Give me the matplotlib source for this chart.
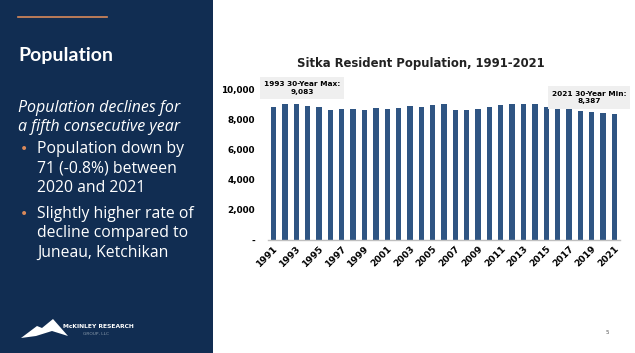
import matplotlib.pyplot as plt
from matplotlib.patches import Rectangle, Polygon
from matplotlib.lines import Line2D

# Sitka resident population, 1991-2021
years = list(range(1991, 2022))
population = [8887, 9067, 9083, 8953, 8867, 8647, 8713, 8733, 8667, 8820,
              8733, 8800, 8933, 8867, 9000, 9047, 8667, 8687, 8733, 8887,
              9000, 9067, 9067, 9067, 8887, 8733, 8713, 8620, 8533, 8458,
              8387]
yticks = [0, 2000, 4000, 6000, 8000, 10000]
ytick_labels = ['-', '2,000', '4,000', '6,000', '8,000', '10,000']

navy = '#112D52'
bar_color = '#2F5583'
orange = '#D9895A'

W, H = 635, 353
fig = plt.figure(figsize=(W / 100, H / 100), dpi=100)
fig.patch.set_facecolor('white')


def fx(px):
    return px / W


def fy(py):
    return 1 - py / H


# Left panel
fig.patches.append(Rectangle((0, 0), fx(213), 1, transform=fig.transFigure,
                             facecolor=navy, edgecolor='none', zorder=0))
fig.lines.append(Line2D([fx(18), fx(107)], [fy(17), fy(17)],
                        transform=fig.transFigure, color=orange, lw=1.2))
fig.text(fx(18), fy(55), 'Population', color='white', fontsize=14,
         fontweight='bold', family='Lato', va='center')
fig.text(fx(18), fy(108), 'Population declines for', color='white',
         fontsize=11.5, style='italic', family='Open Sans', va='center')
fig.text(fx(18), fy(127), 'a fifth consecutive year', color='white',
         fontsize=11.5, style='italic', family='Open Sans', va='center')

bullets = [['Population down by', '71 (-0.8%) between', '2020 and 2021'],
           ['Slightly higher rate of', 'decline compared to',
            'Juneau, Ketchikan']]
y0 = 149
for group in bullets:
    fig.text(fx(20), fy(y0), '\u2022', color=orange, fontsize=10,
             va='center', family='DejaVu Sans')
    for line in group:
        fig.text(fx(37), fy(y0), line, color='white', fontsize=11.3,
                 family='Open Sans', va='center')
        y0 += 19.3
    y0 += 7

# Logo
mountain = [(21, 338), (37, 326), (42, 328), (53, 319), (68, 336),
            (52, 331), (36, 336)]
fig.patches.append(Polygon([(fx(x), fy(y)) for x, y in mountain],
                           closed=True, transform=fig.transFigure,
                           facecolor='white', edgecolor='none'))
fig.text(fx(63), fy(327), 'McKINLEY RESEARCH', color='white', fontsize=4.3,
         fontweight='bold', family='DejaVu Sans', va='center')
fig.text(fx(83), fy(334), 'GROUP, LLC', color='#8899AA', fontsize=3.2,
         family='DejaVu Sans', va='center')

# Page number
fig.text(fx(607), fy(332), '5', color='#555555', fontsize=4,
         family='DejaVu Sans', ha='center', va='center')

# Chart
ax = fig.add_axes([fx(268), fy(240), fx(620) - fx(268), (240 - 90) / H])
x = range(len(years))
ax.bar(x, population, width=0.47, color=bar_color, zorder=2)
ax.set_xlim(-0.5, len(years) - 0.5)
ax.set_ylim(0, 10000)
ax.set_yticks(yticks)
ax.set_yticklabels(ytick_labels, fontsize=6.4, fontweight='bold',
                   family='DejaVu Sans')
ax.set_xticks(list(x)[::2])
ax.set_xticklabels([str(y) for y in years[::2]], rotation=45, ha='right',
                   rotation_mode='anchor', fontsize=6.6, fontweight='bold',
                   family='DejaVu Sans')
ax.tick_params(axis='y', length=0, pad=9.5)
ax.tick_params(axis='x', length=0, pad=3)
for s in ['left', 'right', 'top']:
    ax.spines[s].set_visible(False)
ax.spines['bottom'].set_color('#BFBFBF')
ax.spines['bottom'].set_linewidth(1.0)

fig.text(fx(421), fy(64), 'Sitka Resident Population, 1991-2021',
         fontsize=8.4, fontweight='bold', family='DejaVu Sans',
         ha='center', va='center', color='#222222')

# Annotations
imax = population.index(max(population))
imin = population.index(min(population))
box = dict(boxstyle='square,pad=0.55', facecolor='#EFEFEF', edgecolor='none')
ax.annotate('%d 30-Year Max:\n%s' % (years[imax], format(population[imax], ',')),
            xy=(fx(302), fy(88)), xycoords='figure fraction',
            ha='center', va='center', fontsize=5.3, fontweight='bold',
            family='DejaVu Sans', bbox=box, linespacing=1.4,
            annotation_clip=False)
ax.annotate('%d 30-Year Min:\n%s' % (years[imin], format(population[imin], ',')),
            xy=(fx(589), fy(97.5)), xycoords='figure fraction',
            ha='center', va='center', fontsize=5.3, fontweight='bold',
            family='DejaVu Sans', bbox=box, linespacing=1.4,
            annotation_clip=False)

fig.savefig('out.png', dpi=100)
